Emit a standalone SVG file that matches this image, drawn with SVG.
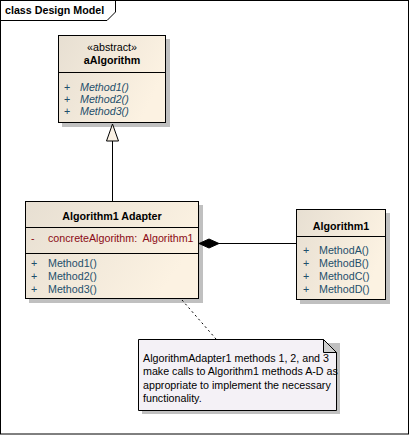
<svg xmlns="http://www.w3.org/2000/svg" width="411" height="435" viewBox="0 0 411 435">
<defs>
<linearGradient id="g" x1="0" y1="0" x2="1" y2="0.4">
<stop offset="0" stop-color="#e7dfd2"/>
<stop offset="1" stop-color="#fcf2e2"/>
</linearGradient>
<style>
text{font-family:"Liberation Sans",Arial,sans-serif;font-size:10.7px;fill:#000}
.b{font-weight:bold}
.op{fill:#1f4f6b}
.at{fill:#8b0a14}
.it{font-style:italic}
.box{fill:url(#g);stroke:#000;stroke-width:1}
.sh{fill:#c0c0c0}
.ln{stroke:#000;stroke-width:1;fill:none}
</style>
</defs>
<rect x="0" y="0" width="411" height="435" fill="#fff"/>
<g id="frame">
<rect x="0.5" y="0.5" width="408" height="433.5" class="ln"/>
<path d="M0.5 20.5 H107 L115.5 12 V0.5" class="ln"/>
<text x="5" y="14" class="b">class Design Model</text>
</g>
<g id="aAlgorithm">
<rect x="62" y="39" width="108" height="88" class="sh"/>
<rect x="58.5" y="35.5" width="107" height="87" class="box"/>
<line x1="58.5" y1="72.5" x2="165.5" y2="72.5" class="ln"/>
<text x="112" y="51" text-anchor="middle">«abstract»</text>
<text x="112" y="64" text-anchor="middle" class="b">aAlgorithm</text>
<text x="64" y="91" class="op">+</text><text x="80" y="91" class="op it">Method1()</text>
<text x="64" y="103" class="op">+</text><text x="80" y="103" class="op it">Method2()</text>
<text x="64" y="115" class="op">+</text><text x="80" y="115" class="op it">Method3()</text>
</g>
<g id="adapter">
<rect x="29" y="205" width="174" height="98" class="sh"/>
<rect x="25.5" y="201.5" width="173" height="97" class="box"/>
<line x1="25.5" y1="227.5" x2="198.5" y2="227.5" class="ln"/>
<line x1="25.5" y1="253.5" x2="198.5" y2="253.5" class="ln"/>
<text x="112" y="220" text-anchor="middle" class="b">Algorithm1 Adapter</text>
<text x="31" y="242" class="at">-</text><text x="48" y="242" class="at" xml:space="preserve">concreteAlgorithm:  Algorithm1</text>
<text x="31" y="267" class="op">+</text><text x="48" y="267" class="op">Method1()</text>
<text x="31" y="280" class="op">+</text><text x="48" y="280" class="op">Method2()</text>
<text x="31" y="293" class="op">+</text><text x="48" y="293" class="op">Method3()</text>
</g>
<g id="algorithm1">
<rect x="300" y="213" width="90" height="91" class="sh"/>
<rect x="296.5" y="209.5" width="89" height="90" class="box"/>
<line x1="296.5" y1="236.5" x2="385.5" y2="236.5" class="ln"/>
<text x="341" y="230" text-anchor="middle" class="b">Algorithm1</text>
<text x="303" y="254" class="op">+</text><text x="319" y="254" class="op">MethodA()</text>
<text x="303" y="267" class="op">+</text><text x="319" y="267" class="op">MethodB()</text>
<text x="303" y="280" class="op">+</text><text x="319" y="280" class="op">MethodC()</text>
<text x="303" y="293" class="op">+</text><text x="319" y="293" class="op">MethodD()</text>
</g>
<g id="note">
<path d="M142 343 H340 V414 H142 Z" class="sh"/>
<path d="M138.5 339.5 H323.5 L336.5 352.5 V410.5 H138.5 Z" fill="#f4f1f6" stroke="#000"/>
<path d="M323.5 339.5 V352.5 H336.5 Z" fill="#cfcfcf" stroke="#000"/>
<text x="143" y="362">AlgorithmAdapter1 methods 1, 2, and 3</text>
<text x="143" y="375">make calls to Algorithm1 methods A-D as</text>
<text x="143" y="389">appropriate to implement the necessary</text>
<text x="143" y="402">functionality.</text>
</g>
<g id="connectors">
<line x1="112.5" y1="141" x2="112.5" y2="201" class="ln"/>
<path d="M112.5 124 L106.5 141 H118.5 Z" fill="#faf1e4" stroke="#000"/>
<line x1="219" y1="243.5" x2="296" y2="243.5" class="ln"/>
<path d="M199 243.5 L209 239 L219 243.5 L209 248 Z" fill="#000" stroke="#000"/>
<line x1="182" y1="300" x2="216" y2="339" stroke="#000" stroke-dasharray="2,3"/>
</g>
</svg>
